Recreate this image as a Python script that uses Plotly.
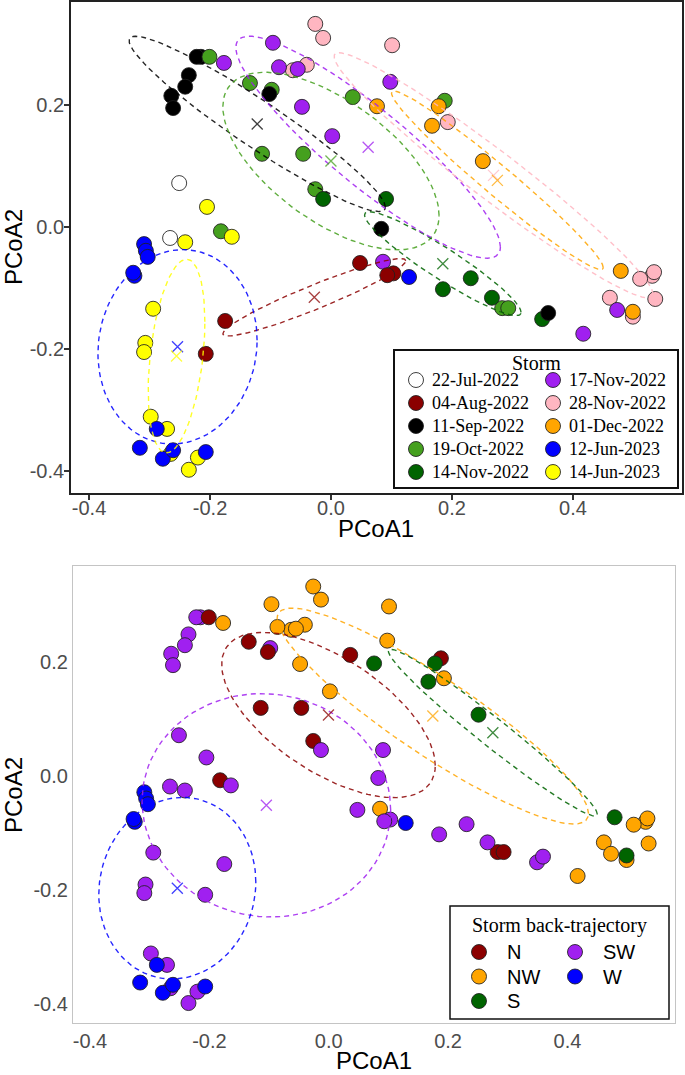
import numpy as np
import plotly.graph_objects as go

# ---------------- data (row order = drawing order) ----------------
pcoa1 = [-0.265, -0.098,
         -0.251, -0.266,
         -0.215, -0.222, -0.235, -0.241, -0.264, -0.261, -0.102, 0.083,
         -0.201, -0.134, -0.114, -0.046, -0.026, 0.036, -0.182, 0.188, 0.283, 0.293,
         -0.013, 0.091, 0.185, 0.231, 0.266, 0.349,
         0.359,
         -0.026, -0.013, -0.063, -0.040, 0.101, 0.193, 0.531, 0.534, 0.511, 0.461, 0.499, 0.536,
         -0.096, -0.177, -0.086, -0.055, -0.048, 0.002, 0.098, 0.086, 0.417, 0.473,
         0.048, 0.103, 0.093, -0.175, -0.207,
         0.076, 0.178, 0.167, 0.251, 0.479, 0.499,
         -0.205, -0.164, -0.241, -0.294, -0.307, -0.309, -0.298, -0.271, -0.220, -0.235,
         -0.309, -0.306, -0.303, -0.325, -0.327, 0.129, -0.288, -0.316, -0.278, -0.261, -0.207]
pcoa2 = [-0.372, 0.225,
         0.072, -0.018,
         0.279, 0.279, 0.249, 0.230, 0.215, 0.195, 0.218, -0.003,
         0.279, 0.236, 0.120, 0.120, 0.062, 0.213, -0.007, 0.207, -0.133, -0.133,
         0.046, 0.046, -0.102, -0.084, -0.116, -0.151,
         -0.141,
         0.333, 0.310, 0.257, 0.266, 0.298, 0.172, -0.080, -0.074, -0.085, -0.116, -0.147, -0.118,
         0.302, 0.269, 0.262, 0.259, 0.197, 0.149, 0.238, -0.057, -0.175, -0.136,
         -0.059, -0.076, -0.079, -0.154, -0.208,
         0.198, 0.198, 0.166, 0.108, -0.072, -0.139,
         0.033, -0.016, -0.025, -0.134, -0.190, -0.205, -0.311, -0.331, -0.378, -0.398,
         -0.028, -0.039, -0.049, -0.080, -0.075, -0.082, -0.331, -0.362, -0.380, -0.366, -0.369]
storm = (["14-Jun-2023", "19-Oct-2022"]
         + ["22-Jul-2022"] * 2
         + ["11-Sep-2022"] * 8
         + ["19-Oct-2022"] * 10
         + ["14-Nov-2022"] * 6
         + ["11-Sep-2022"]
         + ["28-Nov-2022"] * 12
         + ["17-Nov-2022"] * 10
         + ["04-Aug-2022"] * 5
         + ["01-Dec-2022"] * 6
         + ["14-Jun-2023"] * 10
         + ["12-Jun-2023"] * 11)
trajectory = (["SW", "SW"]
              + ["SW"] * 2
              + ["SW"] * 6 + ["N", "SW"]
              + ["N"] * 10
              + ["SW"] * 6
              + ["SW"]
              + ["NW"] * 12
              + ["NW"] * 10
              + ["SW"] * 5
              + ["S"] * 6
              + ["SW"] * 10
              + ["W"] * 11)

storm_levels = ["22-Jul-2022", "04-Aug-2022", "11-Sep-2022", "19-Oct-2022", "14-Nov-2022",
                "17-Nov-2022", "28-Nov-2022", "01-Dec-2022", "12-Jun-2023", "14-Jun-2023"]
storm_colors = ["#FFFFFF", "#8B0000", "#000000", "#45A01E", "#006400",
                "#A020F0", "#FFB6C1", "#FFA500", "#0000FF", "#FFFF00"]
traj_levels = ["N", "NW", "S", "SW", "W"]
traj_colors = ["#8B0000", "#FFA500", "#006400", "#A020F0", "#0000FF"]

x_tickvals = [-0.4, -0.2, 0.0, 0.2, 0.4]
x_ticktext = ["-0.4", "-0.2", "0.0", "0.2", "0.4"]
y_tickvals = [-0.4, -0.2, 0.0, 0.2]
y_ticktext = ["-0.4", "-0.2", "0.0", "0.2"]


# ---------------- SD ellipse (vegan ordiellipse kind="sd" style) ----------------
def sd_ellipse(xs, ys, scale=1.0, npoints=100):
    X = np.column_stack([xs, ys])
    center = X.mean(axis=0)
    cov = np.cov(X, rowvar=False)
    R = np.linalg.cholesky(cov).T
    theta = np.arange(npoints + 1) * 2 * np.pi / npoints
    circ = np.column_stack([np.cos(theta), np.sin(theta)])
    e = center + scale * (circ @ R)
    return e[:, 0], e[:, 1]


px1 = np.array(pcoa1)
px2 = np.array(pcoa2)
storm_arr = np.array(storm)
traj_arr = np.array(trajectory)

W, H = 685, 1075
OUTLINE = "rgba(30,30,30,0.85)"
fig = go.Figure()


def add_panel(labels, levels, colors, xa, ya):
    cmap = dict(zip(levels, colors))
    fig.add_trace(go.Scatter(
        x=pcoa1, y=pcoa2, mode="markers", xaxis=xa, yaxis=ya, showlegend=False,
        hoverinfo="skip",
        marker=dict(size=15, color=[cmap[s] for s in labels],
                    line=dict(color=OUTLINE, width=1))))
    for lev, col in zip(levels, colors):
        m = labels == lev
        if m.sum() >= 3:
            ex, ey = sd_ellipse(px1[m], px2[m])
            fig.add_trace(go.Scatter(
                x=ex, y=ey, mode="lines", xaxis=xa, yaxis=ya, showlegend=False,
                hoverinfo="skip", opacity=0.85,
                line=dict(color=col, width=1.4, dash="5px,4px")))
    for lev, col in zip(levels, colors):
        m = labels == lev
        fig.add_trace(go.Scatter(
            x=[px1[m].mean()], y=[px2[m].mean()], mode="markers", xaxis=xa, yaxis=ya,
            showlegend=False, hoverinfo="skip", opacity=0.75,
            marker=dict(symbol="x-thin", size=11, color=col, line=dict(color=col, width=1.3))))


add_panel(storm_arr, storm_levels, storm_colors, "x", "y")
add_panel(traj_arr, traj_levels, traj_colors, "x2", "y2")

shapes = []
annots = []


def P(px, py):
    return px / W, 1 - py / H


def draw_legend(box, title, title_xy, title_font, levels, colors, nrows, x0, dx, y0, dy,
                text_gap, item_font, border_w):
    bx0, by0 = P(box[0], box[1])
    bx1, by1 = P(box[2], box[3])
    shapes.append(dict(type="rect", xref="paper", yref="paper", x0=bx0, x1=bx1, y0=by1, y1=by0,
                       fillcolor="white", line=dict(color="#111111", width=border_w),
                       layer="above"))
    tx, ty = P(*title_xy)
    annots.append(dict(text=title, x=tx, y=ty, xanchor="center", yanchor="middle",
                       font=title_font))
    for i, (lev, col) in enumerate(zip(levels, colors)):
        r, c = i % nrows, i // nrows
        mx, my = x0 + dx * c, y0 + dy * r
        ax, ay = P(mx, my)
        shapes.append(dict(type="circle", xref="paper", yref="paper", xsizemode="pixel",
                           ysizemode="pixel", xanchor=ax, yanchor=ay, x0=-7.5, x1=7.5,
                           y0=-7.5, y1=7.5, fillcolor=col, layer="above",
                           line=dict(color=OUTLINE, width=1)))
        lx, ly = P(mx + text_gap, my)
        annots.append(dict(text=lev, x=lx, y=ly, xanchor="left", yanchor="middle",
                           font=item_font))


serif20 = dict(family="Liberation Serif", size=20, color="black")
draw_legend((394, 350, 678, 488), "Storm", (536, 363), serif20, storm_levels, storm_colors,
            5, 416, 137, 380, 23, 14, dict(family="Liberation Serif", size=18, color="black"), 2)
draw_legend((450, 906, 669, 1019), "Storm back-trajectory", (559, 925), serif20, traj_levels,
            traj_colors, 3, 479, 96, 952, 24.5, 26,
            dict(family="Liberation Sans", size=20, color="black"), 1.5)

tickfont = dict(family="Liberation Sans", size=20, color="#4D4D4D")

fig.update_layout(
    width=W, height=H, margin=dict(l=0, r=0, t=0, b=0),
    paper_bgcolor="white", plot_bgcolor="white", showlegend=False,
    xaxis=dict(domain=[71 / W, 682 / W], range=[-0.4298, 0.5802], tickvals=x_tickvals,
               ticktext=x_ticktext, showgrid=False, zeroline=False, showline=True, mirror=True,
               linecolor="#222222", linewidth=1.8, ticks="outside", ticklen=5, tickwidth=1.5,
               tickcolor="#333333", tickfont=tickfont, anchor="y", ticklabelstandoff=-9),
    yaxis=dict(domain=[1 - 493 / H, 1 - 2 / H], range=[-0.4361, 0.3689], tickvals=y_tickvals,
               ticktext=y_ticktext, showgrid=False, zeroline=False, showline=True, mirror=True,
               linecolor="#222222", linewidth=1.8, ticks="outside", ticklen=5, tickwidth=1.5,
               tickcolor="#333333", tickfont=tickfont, anchor="x", ticklabelstandoff=-4),
    xaxis2=dict(domain=[73 / W, 675 / W], range=[-0.4285, 0.5802], tickvals=x_tickvals,
                ticktext=x_ticktext, showgrid=False, zeroline=False, showline=True, mirror=True,
                linecolor="#C4C4C4", linewidth=1.2, ticks="outside", ticklen=4,
                tickcolor="rgba(0,0,0,0)", tickfont=tickfont, anchor="y2",
                ticklabelstandoff=-4),
    yaxis2=dict(domain=[1 - 1023 / H, 1 - 566 / H], range=[-0.433, 0.369], tickvals=y_tickvals,
                ticktext=y_ticktext, showgrid=False, zeroline=False, showline=True, mirror=True,
                linecolor="#C4C4C4", linewidth=1.2, ticks="outside", ticklen=4,
                tickcolor="rgba(0,0,0,0)", tickfont=tickfont, anchor="x2",
                ticklabelstandoff=-4),
    shapes=shapes,
)

title_font = dict(family="Liberation Sans", size=24, color="black")
for a in [dict(text="PCoA1", x=376 / W, y=1 - 528 / H, yanchor="middle"),
          dict(text="PCoA1", x=374 / W, y=0.0, yanchor="bottom"),
          dict(text="PCoA2", x=13 / W, y=1 - 247 / H, textangle=-90, yanchor="middle"),
          dict(text="PCoA2", x=13 / W, y=1 - 795 / H, textangle=-90, yanchor="middle")]:
    fig.add_annotation(xref="paper", yref="paper", showarrow=False, font=title_font,
                       xanchor="center", borderpad=0, **a)
for a in annots:
    fig.add_annotation(xref="paper", yref="paper", showarrow=False, **a)

fig.write_html("out.html")
